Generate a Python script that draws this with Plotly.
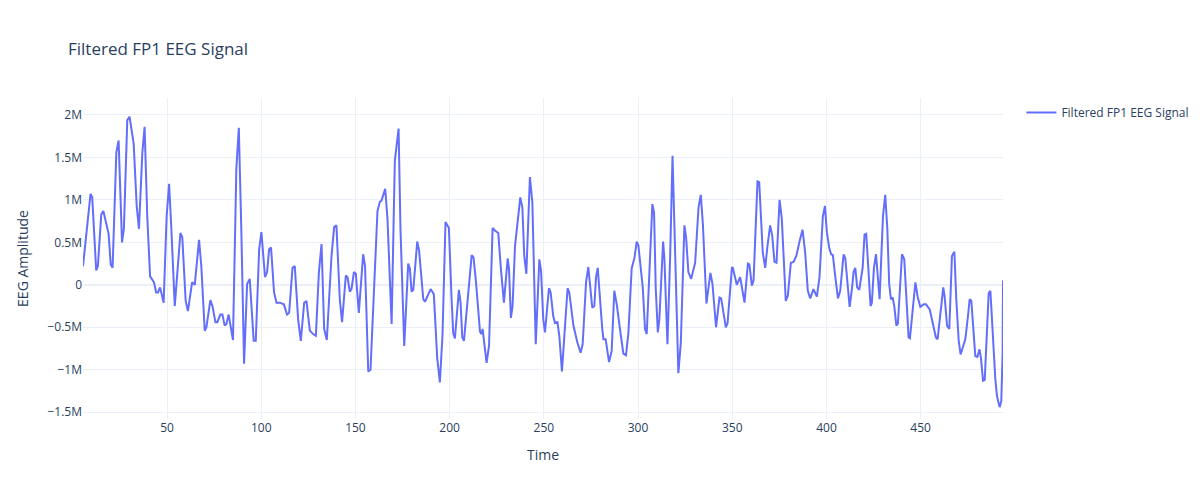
import plotly.graph_objects as go

time = [5.4,9.4,10.3,12.4,13.3,15.1,16.2,19,20.1,21.1,23.1,24.3,26.1,27.1,28.9,30.1,32.3,33.9,35.1,36.9,38.1,39.5,41,43.1,44.2,45.2,46.3,48.2,49.8,51.1,52.3,54.1,
57.1,58.1,59.9,61.1,63.3,64.7,67,68.2,70,70.9,73,74.1,75.7,76.7,78.3,79.4,80.6,81.5,82.7,85,86.8,88.1,89.5,90.9,92.5,93.9,96,97.1,98.9,100.1,102,103.1,104.2,105.2,
106.8,108.1,109.8,112,113.7,114.8,116.6,117.8,119.6,121,122.8,124,125.8,127.5,129,130.6,132,133.4,134.8,137.3,138.7,139.9,141.7,142.9,144.9,145.8,147,147.9,149.2,150.2,151.8,154.1,155.1,
156.8,158,159.8,161.7,163,163.8,165.8,167,169.2,170.9,172.9,173.9,175.9,178,178.9,179.8,180.7,182.8,183.8,186,186.9,188.6,189.9,191.6,193.4,194.8,196.2,197.8,199.6,201,201.9,202.8,204.9,
205.8,206.7,207.6,209.5,211.7,212.7,214,216.1,216.8,217.5,219.6,220.9,222.8,224,225.8,227.2,228.8,230.8,231.5,232.5,233.4,234.7,236.1,237.5,238.6,239.6,240.7,241.8,242.6,243.9,245.7,247.6,248.5,249.7,250.6,252.7,253.6,255,255.9,257.2,
258.2,259.6,261.2,262.6,263.5,265.7,267.8,269.5,270.6,272.4,273.6,274.9,275.7,276.8,277.7,278.6,279.8,281,281.6,282.8,284.6,286,287.4,288.7,290.4,292.2,293.6,294.9,296.6,298.1,299.3,300.2,302.5,303.7,304.6,306.4,307.6,308.5,
309.4,310.5,311.3,313.3,314,315.6,317,318.3,319.3,320.6,321.4,322.7,324.6,325.5,326.7,328.2,330.3,332.1,333.3,334.4,336.3,338.4,339.5,341.4,343.2,344.1,346.6,347.5,349.8,350.3,352.4,354.2,356.5,358.3,
359.1,360.4,361.3,363.4,364.3,366.2,367.5,368.7,370.1,371.2,372.4,373.5,375.1,376.3,378.4,379.5,381.1,382.5,384,385.7,387.3,388.7,390.1,391.4,393.1,394.9,396.3,398.1,399.2,400.2,401.5,402.5,403.4,404.6,406.1,407.3,409.1,
410,412.3,413.5,414.4,415.3,416.3,417.4,419.2,420.2,421.1,422.4,423.4,424.1,425.2,426.3,427.3,428.2,430,431.2,432.3,433.3,434.2,435.1,436,437.1,437.9,439.2,440.1,441.3,442.7,443.6,444.3,445.9,447.2,448.4,449.8,451.6,452.8,454.8,456.4,
458.1,459,460.4,462,462.7,464,465.2,466.6,467.9,468.9,470.2,471.2,472.3,473.7,475.1,476,476.9,478.1,479,480.1,481.2,482,483.1,484,485.2,486.1,487,488.2,489.6,490.5,491.9,492.8,493.5,493.7]

amplitude_m = [.22,1.07,1.03,.17,.22,.83,.87,.6,.24,.2,1.56,1.7,.5,.66,1.94,1.98,1.66,.93,.66,1.56,1.86,.81,.1,.03,-.09,-.09,-.03,-.21,.81,1.19,.66,-.25,
.61,.56,-.19,-.31,.03,0,.53,.22,-.54,-.5,-.18,-.25,-.44,-.44,-.35,-.35,-.48,-.46,-.35,-.65,1.37,1.85,.58,-.93,.01,.07,-.66,-.66,.42,.62,.09,.15,.42,.44,
-.09,-.21,-.21,-.23,-.35,-.33,.2,.22,-.41,-.66,-.21,-.19,-.54,-.58,-.6,.15,.48,-.52,-.65,.34,.68,.7,-.17,-.44,.11,.09,-.08,-.05,.15,.13,-.33,.36,.22,
-1.02,-1.0,-.05,.87,.98,.99,1.13,.78,-.46,1.46,1.84,.66,-.72,.25,.19,-.08,-.06,.51,.4,-.17,-.2,-.11,-.05,-.11,-.86,-1.15,-.6,.74,.67,-.15,-.57,-.63,-.06,
-.21,-.62,-.66,-.17,.35,.32,.03,-.55,-.58,-.52,-.92,-.72,.67,.64,.61,.19,-.21,.31,.19,-.39,-.25,.46,.74,1.03,.91,.34,.13,.81,1.27,.97,-.7,.3,.17,-.41,-.56,-.04,-.09,-.37,-.45,-.44,
-.6,-1.02,-.52,-.04,-.09,-.48,-.68,-.8,-.7,.03,.21,-.05,-.27,-.25,.09,.2,-.21,-.52,-.64,-.64,-.91,-.78,-.07,-.23,-.52,-.81,-.83,-.56,.19,.32,.51,.46,-.03,-.52,-.58,.26,.95,.85,
-.05,-.56,-.41,.51,.3,-.7,.3,1.52,.58,-.41,-1.04,-.68,.7,.56,.15,.07,.26,.91,1.06,.72,-.22,.14,.01,-.5,-.15,-.16,-.5,-.45,.2,.2,0,.09,-.21,.25,
.24,-.01,.05,1.22,1.21,.38,.2,.46,.7,.58,.27,.26,1.0,.78,-.19,-.13,.26,.27,.34,.51,.65,.38,-.07,-.16,-.05,-.14,.09,.81,.93,.62,.43,.36,.35,.11,-.16,-.07,.36,
.31,-.26,-.05,.15,.2,-.03,-.06,.2,.59,.6,.13,-.25,-.21,.2,.36,.07,-.17,.81,1.06,.66,.01,-.17,-.15,-.25,-.48,-.46,-.03,.36,.3,-.33,-.62,-.63,-.21,.03,-.14,-.26,-.23,-.23,-.29,-.44,
-.62,-.64,-.33,-.03,-.13,-.48,-.52,.34,.39,-.17,-.66,-.82,-.74,-.64,-.37,-.17,-.19,-.6,-.84,-.85,-.76,-.86,-1.13,-1.12,-.44,-.1,-.07,-.6,-1.1,-1.31,-1.44,-1.37,-.8,.05]

amplitude = [v * 1e6 for v in amplitude_m]

fig = go.Figure()
fig.add_trace(go.Scatter(x=time, y=amplitude, mode="lines", name="Filtered FP1 EEG Signal",
                         line=dict(color="#636efa")))
fig.update_layout(
    template="plotly_white",
    title=dict(text="Filtered FP1 EEG Signal", x=0.05, y=0.916, yanchor="middle"),
    xaxis=dict(title="Time", automargin=False),
    yaxis=dict(title="EEG Amplitude", automargin=False, range=[-1.58e6, 2.2e6]),
    showlegend=True,
    margin=dict(l=75, r=205, t=90, b=80),
    width=1200, height=491,
)
fig.write_html("out.html")
